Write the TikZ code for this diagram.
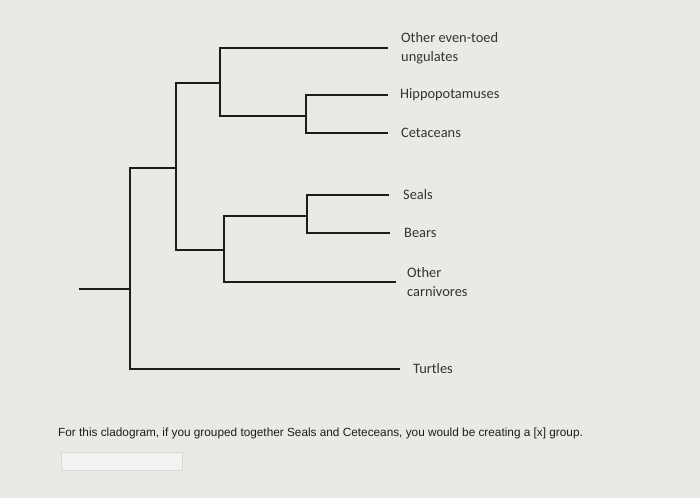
\documentclass[tikz,border=0pt]{standalone}
\usepackage{fontspec}
\setmainfont{Carlito}
\newfontfamily\questionfont{Liberation Sans}
\usetikzlibrary{positioning}

\definecolor{screenbg}{RGB}{234,233,230}
\definecolor{inkdark}{RGB}{28,28,28}

\begin{document}
\begin{tikzpicture}[
    x=1pt, y=-1pt,
    branch/.style={line width=1.9pt, draw=inkdark},
    taxon/.style={anchor=west, align=left, inner sep=0pt, text=inkdark!90,
        font=\fontsize{14.4}{19}\selectfont},
    answerbox/.style={draw=black!15, fill=white!40!screenbg, line width=0.6pt,
        minimum width=121pt, minimum height=18pt, inner sep=0pt, anchor=north west}
]

    % Screen background and page size
    \fill[screenbg] (0,0) rectangle (700,498);
    \useasboundingbox (0,0) rectangle (700,498);

    % Tips of the branches
    \coordinate (tEven)   at (388,48);
    \coordinate (tHippo)  at (388,95);
    \coordinate (tCet)    at (388,133);
    \coordinate (tSeal)   at (389,195);
    \coordinate (tBear)   at (390,233);
    \coordinate (tOther)  at (396,282);
    \coordinate (tTurtle) at (400,369);

    % Internal nodes (where each clade meets its stem)
    \coordinate (cHC)   at (306,116);
    \coordinate (cEven) at (220,83);
    \coordinate (cSB)   at (307,216);
    \coordinate (cCarn) at (224,250);
    \coordinate (cMam)  at (176,168);
    \coordinate (cRoot) at (130,289);
    \coordinate (base)  at (79,289);

    % Branches
    \draw[branch] (tHippo) -| (cHC) |- (tCet);
    \draw[branch] (tEven) -| (cEven) |- (cHC);
    \draw[branch] (tSeal) -| (cSB) |- (tBear);
    \draw[branch] (cSB) -| (cCarn) |- (tOther);
    \draw[branch] (cEven) -| (cMam) |- (cCarn);
    \draw[branch] (cMam) -| (cRoot) |- (tTurtle);
    \draw[branch] (base) -- (cRoot);

    % Labels
    \node[taxon, right=13pt of tEven]   (lEven)   {Other even-toed\\ungulates};
    \node[taxon, right=12pt of tHippo]  (lHippo)  {Hippopotamuses};
    \node[taxon, right=13pt of tCet]    (lCet)    {Cetaceans};
    \node[taxon, right=14pt of tSeal]   (lSeal)   {Seals};
    \node[taxon, right=14pt of tBear]   (lBear)   {Bears};
    \node[taxon, right=11pt of tOther]  (lOther)  {Other\\carnivores};
    \node[taxon, right=13pt of tTurtle] (lTurtle) {Turtles};

    % Question and answer field
    \node[anchor=west, inner sep=0pt, text=inkdark,
        font=\questionfont\fontsize{11.8}{14}\selectfont] (question) at (58,433)
        {For this cladogram, if you grouped together Seals and Ceteceans, you would be creating a [x] group.};
    \node[answerbox] (answer) at (61,452) {};

\end{tikzpicture}
\end{document}
